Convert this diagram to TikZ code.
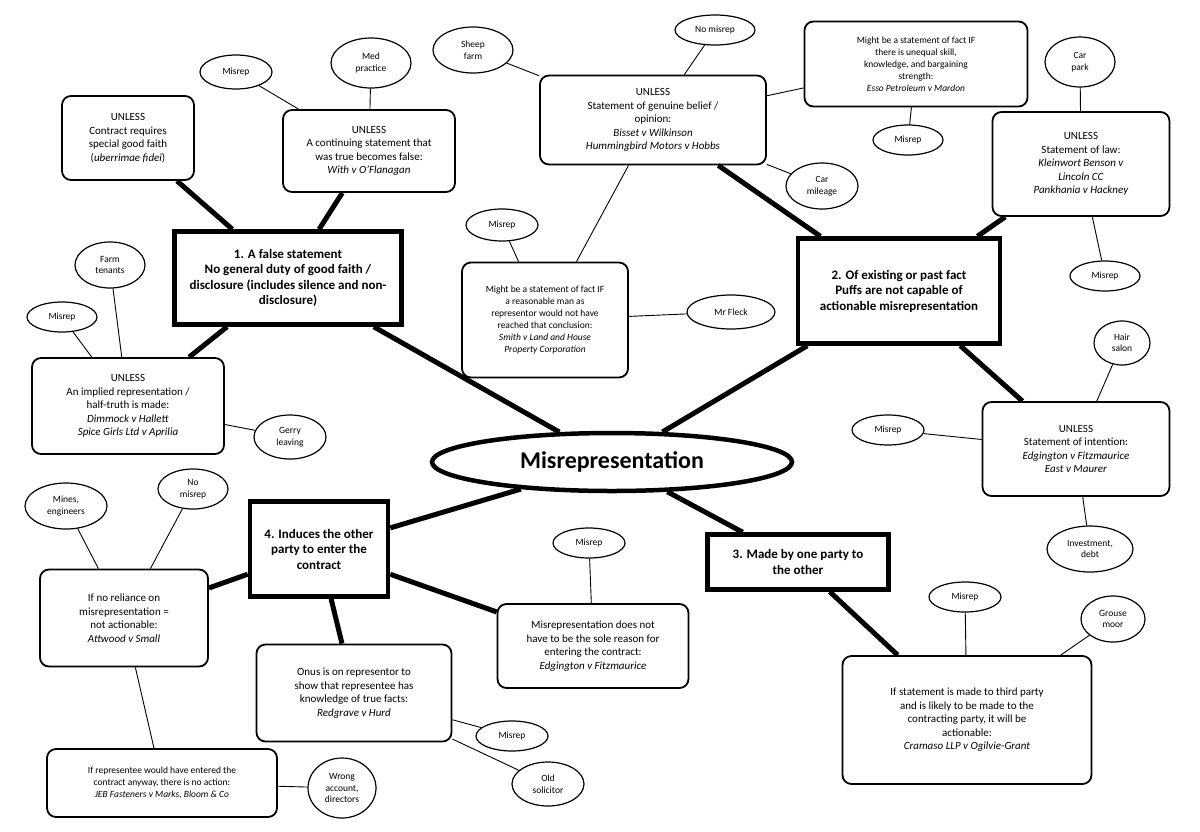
\documentclass[tikz,border=0pt]{standalone}
\usepackage{fontspec}
\setmainfont{Carlito}
\usetikzlibrary{shapes.geometric}
\begin{document}
\begin{tikzpicture}[x=1pt,y=-1pt,
  main/.style={draw,line width=4.5pt,align=center,font=\fontsize{13}{15.5}\selectfont\bfseries,inner sep=2pt},
  rbox/.style={draw,line width=1.8pt,rounded corners=9pt,align=center,font=\fontsize{11}{13.5}\selectfont,inner sep=2pt},
  sbox/.style={rbox,font=\fontsize{9.5}{12}\selectfont},
  oval/.style={draw,line width=1.2pt,ellipse,align=center,font=\fontsize{9.5}{11.5}\selectfont,inner sep=0pt},
  thick/.style={line width=5pt},
  thin/.style={line width=0.9pt}]
\useasboundingbox (0,0) rectangle (1200,831);
\node[draw,line width=4.5pt,ellipse,minimum width=360,minimum height=58,font=\fontsize{24}{28}\selectfont\bfseries] (c) at (612,462) {Misrepresentation};
\node[main,minimum width=227,minimum height=93] (b1) at (288,278) {1. A false statement\\No general duty of good faith /\\disclosure (includes silence and non-\\disclosure)};
\node[main,minimum width=202,minimum height=105] (b2) at (899,291) {2. Of existing or past fact\\Puffs are not capable of\\actionable misrepresentation};
\node[main,minimum width=181,minimum height=55] (b3) at (798,562) {3. Made by one party to\\the other};
\node[main,minimum width=138,minimum height=95] (b4) at (319,549) {4. Induces the other\\party to enter the\\contract};

\node[rbox,minimum width=132,minimum height=84] (gf) at (128,138) {UNLESS\\Contract requires\\special good faith\\(\textit{uberrimae fidei})};
\node[rbox,minimum width=172,minimum height=82] (cs) at (369,151) {UNLESS\\A continuing statement that\\was true becomes false:\\\textit{With v O'Flanagan}};
\node[rbox,minimum width=226,minimum height=89] (gb) at (653,120) {UNLESS\\Statement of genuine belief /\\opinion:\\\textit{Bisset v Wilkinson}\\\textit{Hummingbird Motors v Hobbs}};
\node[sbox,minimum width=223,minimum height=85] (us) at (916,64) {Might be a statement of fact IF\\there is unequal skill,\\knowledge, and bargaining\\strength:\\\textit{Esso Petroleum v Mardon}};
\node[rbox,minimum width=177,minimum height=104] (law) at (1081,164) {UNLESS\\Statement of law:\\\textit{Kleinwort Benson v}\\\textit{Lincoln CC}\\\textit{Pankhania v Hackney}};
\node[sbox,minimum width=166,minimum height=115] (rm) at (545,320) {Might be a statement of fact IF\\a reasonable man as\\representor would not have\\reached that conclusion:\\\textit{Smith v Land and House}\\\textit{Property Corporation}};
\node[rbox,minimum width=192,minimum height=96] (ir) at (128,406) {UNLESS\\An implied representation /\\half-truth is made:\\\textit{Dimmock v Hallett}\\\textit{Spice Girls Ltd v Aprilia}};
\node[rbox,minimum width=187,minimum height=94] (int) at (1076,449) {UNLESS\\Statement of intention:\\\textit{Edgington v Fitzmaurice}\\\textit{East v Maurer}};
\node[rbox,minimum width=168,minimum height=97] (nr) at (124,618) {If no reliance on\\misrepresentation =\\not actionable:\\\textit{Attwood v Small}};
\node[rbox,minimum width=195,minimum height=97] (on) at (354,693) {Onus is on representor to\\show that representee has\\knowledge of true facts:\\\textit{Redgrave v Hurd}};
\node[rbox,minimum width=191,minimum height=84] (sr) at (593,646) {Misrepresentation does not\\have to be the sole reason for\\entering the contract:\\\textit{Edgington v Fitzmaurice}};
\node[rbox,minimum width=249,minimum height=128] (tp) at (967,720) {If statement is made to third party\\and is likely to be made to the\\contracting party, it will be\\actionable:\\\textit{Cramaso LLP v Ogilvie-Grant}};
\node[sbox,minimum width=230,minimum height=68] (re) at (162,783) {If representee would have entered the\\contract anyway, there is no action:\\\textit{JEB Fasteners v Marks, Bloom \& Co}};

\node[oval,minimum width=72,minimum height=34] (o1) at (236,72) {Misrep};
\node[oval,minimum width=80,minimum height=50] (o2) at (371,63) {Med\\practice};
\node[oval,minimum width=80,minimum height=46] (o3) at (473,50) {Sheep\\farm};
\node[oval,minimum width=80,minimum height=30] (o4) at (715,30) {No misrep};
\node[oval,minimum width=70,minimum height=50] (o5) at (1080,62) {Car\\park};
\node[oval,minimum width=70,minimum height=30] (o6) at (908,140) {Misrep};
\node[oval,minimum width=72,minimum height=46] (o7) at (822,186) {Car\\mileage};
\node[oval,minimum width=72,minimum height=32] (o8) at (502,225) {Misrep};
\node[oval,minimum width=88,minimum height=34] (o9) at (731,312) {Mr Fleck};
\node[oval,minimum width=70,minimum height=30] (o10) at (1105,276) {Misrep};
\node[oval,minimum width=70,minimum height=46] (o11) at (110,265) {Farm\\tenants};
\node[oval,minimum width=70,minimum height=30] (o12) at (62,317) {Misrep};
\node[oval,minimum width=56,minimum height=44] (o13) at (1122,343) {Hair\\salon};
\node[oval,minimum width=72,minimum height=30] (o14) at (888,430) {Misrep};
\node[oval,minimum width=72,minimum height=44] (o15) at (290,437) {Gerry\\leaving};
\node[oval,minimum width=82,minimum height=46] (o16) at (66,506) {Mines,\\engineers};
\node[oval,minimum width=70,minimum height=40] (o17) at (193,489) {No\\misrep};
\node[oval,minimum width=86,minimum height=46] (o18) at (1090,549) {Investment,\\debt};
\node[oval,minimum width=72,minimum height=30] (o19) at (589,543) {Misrep};
\node[oval,minimum width=72,minimum height=30] (o20) at (965,597) {Misrep};
\node[oval,minimum width=64,minimum height=46] (o21) at (1113,619) {Grouse\\moor};
\node[oval,minimum width=72,minimum height=30] (o22) at (512,736) {Misrep};
\node[oval,minimum width=68,minimum height=60] (o23) at (342,788) {Wrong\\account,\\directors};
\node[oval,minimum width=72,minimum height=44] (o24) at (548,784) {Old\\solicitor};

\draw[thick] (b1)--(c); \draw[thick] (b2)--(c); \draw[thick] (b3)--(c); \draw[thick] (b4)--(c);
\draw[thick] (b1)--(gf); \draw[thick] (b1)--(cs); \draw[thick] (b1)--(ir);
\draw[thick] (b2)--(gb); \draw[thick] (b2)--(law); \draw[thick] (b2)--(int);
\draw[thick] (b3)--(tp);
\draw[thick] (b4)--(nr); \draw[thick] (b4)--(on); \draw[thick] (b4)--(sr);

\draw[thin] (o1)--(cs); \draw[thin] (o2)--(cs);
\draw[thin] (o3)--(gb); \draw[thin] (o4)--(gb); \draw[thin] (o7)--(gb);
\draw[thin] (us)--(gb); \draw[thin] (o6)--(us);
\draw[thin] (o5)--(law); \draw[thin] (o10)--(law);
\draw[thin] (gb)--(rm); \draw[thin] (o8)--(rm); \draw[thin] (o9)--(rm);
\draw[thin] (o11)--(ir); \draw[thin] (o12)--(ir); \draw[thin] (o15)--(ir);
\draw[thin] (o13)--(int); \draw[thin] (o14)--(int); \draw[thin] (o18)--(int);
\draw[thin] (o16)--(nr); \draw[thin] (o17)--(nr); \draw[thin] (nr)--(re);
\draw[thin] (o19)--(sr);
\draw[thin] (o20)--(tp); \draw[thin] (o21)--(tp);
\draw[thin] (o22)--(on); \draw[thin] (o24)--(on); \draw[thin] (o23)--(re);
\end{tikzpicture}
\end{document}
